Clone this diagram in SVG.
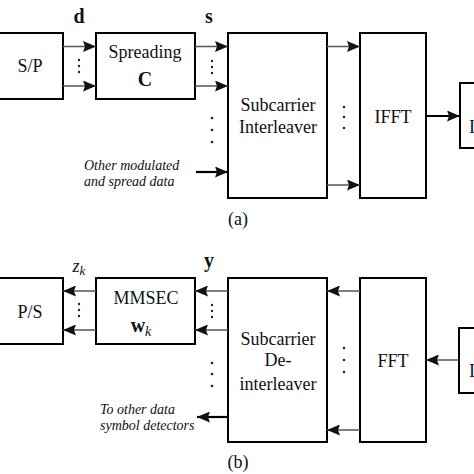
<svg xmlns="http://www.w3.org/2000/svg" width="474" height="474" viewBox="0 0 474 474">
<style>
.box{fill:#fff;stroke:#000;stroke-width:2}
.t{font-family:"Liberation Serif","Times New Roman",serif;font-size:18px;fill:#111;text-anchor:middle}
.b{font-weight:bold;font-size:20px}
.it{font-family:"Liberation Serif","Times New Roman",serif;font-style:italic;font-size:14px;fill:#111}
.thin{stroke:#555;stroke-width:1.5;fill:none}
.thick{stroke:#000;stroke-width:2.2;fill:none}
.dot{fill:#222}
</style>
<defs>
<marker id="ah" markerUnits="userSpaceOnUse" markerWidth="14" markerHeight="11" refX="13" refY="5.5" orient="auto">
<path d="M0,0 L13,5.5 L0,11 L2,5.5 Z" fill="#111"/>
</marker>
</defs>
<rect width="474" height="474" fill="#fff"/>

<!-- (a) transmitter -->
<g id="sp"><rect class="box" x="-5" y="33" width="68" height="66"/><text class="t" x="30" y="72">S/P</text></g>
<g id="spreading"><rect class="box" x="96" y="33" width="99" height="66"/><text class="t" x="145" y="58">Spreading</text><text class="t b" x="145" y="86">C</text></g>
<g id="interleaver"><rect class="box" x="228" y="33" width="99" height="165"/><text class="t" x="278" y="111">Subcarrier</text><text class="t" x="278" y="133">Interleaver</text></g>
<g id="ifft"><rect class="box" x="360" y="33" width="66" height="165"/><text class="t" x="393" y="123">IFFT</text></g>
<g id="tx_next"><rect class="box" x="460" y="83" width="30" height="65"/><text class="t" x="472" y="133">I</text></g>

<!-- (b) receiver -->
<g id="ps"><rect class="box" x="-5" y="278" width="68" height="66"/><text class="t" x="30" y="318">P/S</text></g>
<g id="mmsec"><rect class="box" x="96" y="278" width="99" height="66"/><text class="t" x="146" y="304">MMSEC</text><text class="t b" x="141" y="332">w<tspan font-weight="normal" font-style="italic" font-size="14" dy="4">k</tspan></text></g>
<g id="deinterleaver"><rect class="box" x="228" y="278" width="99" height="164"/><text class="t" x="278" y="345">Subcarrier</text><text class="t" x="278" y="366">De-</text><text class="t" x="278" y="390">interleaver</text></g>
<g id="fft"><rect class="box" x="360" y="278" width="66" height="164"/><text class="t" x="393" y="367">FFT</text></g>
<g id="rx_prev"><rect class="box" x="459" y="328" width="30" height="65"/><text class="t" x="472" y="377">I</text></g>

<g id="connectors">
<line class="thin" x1="63" y1="46.5" x2="96" y2="46.5" marker-end="url(#ah)"/>
<line class="thin" x1="63" y1="86" x2="96" y2="86" marker-end="url(#ah)"/>
<line class="thin" x1="195" y1="46.5" x2="228" y2="46.5" marker-end="url(#ah)"/>
<line class="thin" x1="195" y1="86" x2="228" y2="86" marker-end="url(#ah)"/>
<line class="thick" x1="196" y1="172" x2="228" y2="172" marker-end="url(#ah)"/>
<line class="thin" x1="327" y1="46.5" x2="360" y2="46.5" marker-end="url(#ah)"/>
<line class="thin" x1="327" y1="185" x2="360" y2="185" marker-end="url(#ah)"/>
<line class="thick" x1="426" y1="116" x2="460" y2="116" marker-end="url(#ah)"/>

<line class="thin" x1="96" y1="291" x2="63" y2="291" marker-end="url(#ah)"/>
<line class="thin" x1="96" y1="330" x2="63" y2="330" marker-end="url(#ah)"/>
<line class="thin" x1="228" y1="291" x2="195" y2="291" marker-end="url(#ah)"/>
<line class="thin" x1="228" y1="330" x2="195" y2="330" marker-end="url(#ah)"/>
<line class="thick" x1="228" y1="417" x2="197" y2="417" marker-end="url(#ah)"/>
<line class="thin" x1="360" y1="291" x2="327" y2="291" marker-end="url(#ah)"/>
<line class="thin" x1="360" y1="430" x2="327" y2="430" marker-end="url(#ah)"/>
<line class="thin" x1="459" y1="360" x2="426" y2="360" marker-end="url(#ah)"/>
</g>

<g id="dots">
<circle class="dot" cx="79" cy="60" r="1.2"/><circle class="dot" cx="79" cy="66" r="1.2"/><circle class="dot" cx="79" cy="72" r="1.2"/>
<circle class="dot" cx="212" cy="61" r="1.2"/><circle class="dot" cx="212" cy="67" r="1.2"/><circle class="dot" cx="212" cy="73" r="1.2"/>
<circle class="dot" cx="212" cy="118" r="1.3"/><circle class="dot" cx="212" cy="130" r="1.3"/><circle class="dot" cx="212" cy="142" r="1.3"/>
<circle class="dot" cx="344" cy="107" r="1.3"/><circle class="dot" cx="344" cy="117" r="1.3"/><circle class="dot" cx="344" cy="128" r="1.3"/>
<circle class="dot" cx="79" cy="304" r="1.2"/><circle class="dot" cx="79" cy="310" r="1.2"/><circle class="dot" cx="79" cy="316" r="1.2"/>
<circle class="dot" cx="212" cy="305" r="1.2"/><circle class="dot" cx="212" cy="311" r="1.2"/><circle class="dot" cx="212" cy="317" r="1.2"/>
<circle class="dot" cx="212" cy="363" r="1.3"/><circle class="dot" cx="212" cy="374" r="1.3"/><circle class="dot" cx="212" cy="386" r="1.3"/>
<circle class="dot" cx="344" cy="348" r="1.3"/><circle class="dot" cx="344" cy="360" r="1.3"/><circle class="dot" cx="344" cy="372" r="1.3"/>
</g>

<g id="labels">
<text class="t b" x="79" y="23">d</text>
<text class="t b" x="209" y="23">s</text>
<text class="it" x="84" y="170">Other modulated</text>
<text class="it" x="84" y="186">and spread data</text>
<text class="t" x="238" y="225">(a)</text>
<text class="t" x="79" y="272" font-style="italic">z<tspan font-size="13" dy="3">k</tspan></text>
<text class="t b" x="209" y="267">y</text>
<text class="it" x="100" y="414">To other data</text>
<text class="it" x="100" y="430">symbol detectors</text>
<text class="t" x="238" y="468">(b)</text>
</g>
</svg>
